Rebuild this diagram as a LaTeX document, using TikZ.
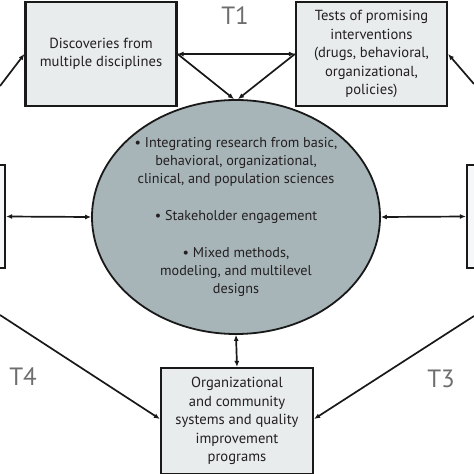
\documentclass[tikz,border=0pt]{standalone}
\usepackage{fontspec}
\setmainfont{PT Sans}
\usetikzlibrary{arrows.meta,shapes.geometric}
\definecolor{boxfill}{HTML}{E9ECED}
\definecolor{ellfill}{HTML}{A7B5B9}
\definecolor{txt}{HTML}{231F20}
\definecolor{tlab}{HTML}{6E6E6E}
\begin{document}
\begin{tikzpicture}[x=1pt,y=-1pt,
  box/.style={draw=black!90, line width=2.2pt, fill=boxfill, inner sep=0pt, align=center,
    text=txt, font=\fontsize{14.6}{18.5}\selectfont},
  ellbox/.style={ellipse, draw=black!90, line width=1.8pt, fill=ellfill, inner sep=0pt, align=center,
    text=txt, font=\fontsize{14.2}{18.3}\selectfont, minimum width=288pt, minimum height=234pt},
  conn/.style={line width=1.7pt, black!90},
  tip/.style={-{Latex[length=6pt,width=5pt]}},
  dtip/.style={{Latex[length=6pt,width=5pt]}-{Latex[length=6pt,width=5pt]}},
  tlabel/.style={text=tlab, font=\fontsize{25}{25}\selectfont, inner sep=0pt}
]
\useasboundingbox (0,0) rectangle (474,474);
\fill[white] (0,0) rectangle (474,474);
\clip (0,0) rectangle (474,474);

\node[box, minimum width=151pt, minimum height=104pt] (tl) at (101,54) {Discoveries from\\multiple disciplines};
\node[box, minimum width=151pt, minimum height=104pt] (tr) at (371.5,54) {Tests of promising\\interventions\\(drugs, behavioral,\\organizational,\\policies)};
\node[box, fill=white!60!boxfill, minimum width=100pt, minimum height=103pt] (lb) at (-45,216.5) {};
\node[box, fill=white!60!boxfill, minimum width=100pt, minimum height=103pt] (rb) at (517,216.5) {};
\node[box, minimum width=152pt, minimum height=106pt] (bb) at (237,421) {Organizational\\and community\\systems and quality\\improvement\\programs};
\node[ellbox] (ell) at (236,217) {{\textbullet} Integrating research from basic,\\behavioral, organizational,\\clinical, and population sciences\\[18.3pt]{\textbullet} Stakeholder engagement\\[18.3pt]{\textbullet} Mixed methods,\\modeling, and multilevel\\designs};

\node[tlabel] (t1) at (235,16) {T1};
\node[tlabel] (t4) at (23,377) {T4};
\node[tlabel] (t3) at (441,379) {T3};

\coordinate (tla) at (0,86);
\coordinate (tra) at (474,84);
\coordinate (bla) at (0,315);
\coordinate (bra) at (474,316);

\draw[conn,dtip] (tl.east) -- (tr.west);
\draw[conn,tip] (tl.east) -- ([xshift=-2pt]ell.north);
\draw[conn,tip] (tr.west) -- ([xshift=2pt]ell.north);
\draw[conn,tip] (tla) -- (tl.west);
\draw[conn,tip] (tra) -- (tr.east);
\draw[conn,dtip] (lb.east) -- (ell.west);
\draw[conn,dtip] (ell.east) -- (rb.west);
\draw[conn,dtip] (ell.south) -- (bb.north);
\draw[conn,tip] (bla) -- ([yshift=2pt]bb.west);
\draw[conn,tip] (bra) -- ([yshift=2pt]bb.east);
\end{tikzpicture}
\end{document}
